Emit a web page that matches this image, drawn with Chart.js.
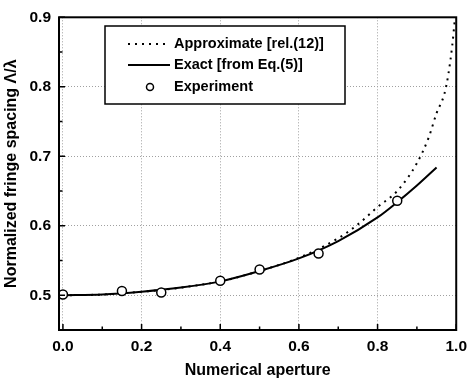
<!DOCTYPE html>
<html>
<head>
<meta charset="utf-8">
<script src="https://cdn.jsdelivr.net/npm/chart.js@4"></script>
<style>
  html, body { margin: 0; padding: 0; background: #fff; }
  #wrap { width: 474px; height: 382px; }
</style>
</head>
<body>
<div id="wrap"><canvas id="chart" width="474" height="382"></canvas></div>
<script>
const xTicks = [0, 0.2, 0.4, 0.6, 0.8, 1.0];
const xMinorTicks = [0.1, 0.3, 0.5, 0.7, 0.9];
const yTicks = [0.5, 0.6, 0.7, 0.8, 0.9];
const yMinorTicks = [0.55, 0.65, 0.75, 0.85];

const approxX = [0, 0.1, 0.2, 0.3, 0.4, 0.5, 0.6, 0.7, 0.75, 0.8, 0.85, 0.9, 0.93, 0.95, 0.97, 0.98, 0.99, 0.997];
const approxY = [0.5, 0.501, 0.505, 0.511, 0.52, 0.535, 0.554, 0.582, 0.602, 0.627, 0.65, 0.69, 0.727, 0.762, 0.79, 0.818, 0.86, 0.9];

const exactX = [0, 0.1, 0.2, 0.3, 0.4, 0.5, 0.6, 0.7, 0.8, 0.85, 0.9, 0.95];
const exactY = [0.5, 0.501, 0.505, 0.511, 0.52, 0.535, 0.553, 0.578, 0.612, 0.634, 0.658, 0.684];

const experimentX = [0, 0.15, 0.25, 0.4, 0.5, 0.65, 0.85];
const experimentY = [0.501, 0.506, 0.504, 0.521, 0.537, 0.56, 0.636];

const legendLabels = ['Approximate [rel.(12)]', 'Exact [from Eq.(5)]', 'Experiment'];

const FONT = 'Arial, "Liberation Sans", Helvetica, sans-serif';

function points(xs, ys) {
  return xs.map((x, i) => ({x, y: ys[i]}));
}

// frame, inward ticks and the boxed legend
const framePlugin = {
  id: 'frame',
  afterDraw(chart) {
    const {ctx, chartArea: area, scales: {x, y}} = chart;
    ctx.save();
    ctx.strokeStyle = '#000';
    ctx.lineWidth = 1.5;

    ctx.beginPath();
    xTicks.forEach(v => {
      const px = x.getPixelForValue(v);
      ctx.moveTo(px, area.bottom);
      ctx.lineTo(px, area.bottom - 6);
    });
    xMinorTicks.forEach(v => {
      const px = x.getPixelForValue(v);
      ctx.moveTo(px, area.bottom);
      ctx.lineTo(px, area.bottom - 3.5);
    });
    yTicks.forEach(v => {
      const py = y.getPixelForValue(v);
      ctx.moveTo(area.left, py);
      ctx.lineTo(area.left + 6, py);
    });
    yMinorTicks.forEach(v => {
      const py = y.getPixelForValue(v);
      ctx.moveTo(area.left, py);
      ctx.lineTo(area.left + 3.5, py);
    });
    ctx.stroke();

    ctx.lineWidth = 2;
    ctx.strokeRect(area.left, area.top, area.right - area.left, area.bottom - area.top);

    // legend
    ctx.fillStyle = '#fff';
    ctx.fillRect(105, 26, 240, 78);
    ctx.lineWidth = 1.5;
    ctx.strokeRect(105, 26, 240, 78);

    const rows = [44, 65, 87];
    ctx.lineWidth = 2;
    ctx.setLineDash([2, 5]);
    ctx.beginPath();
    ctx.moveTo(128, rows[0]);
    ctx.lineTo(168, rows[0]);
    ctx.stroke();
    ctx.setLineDash([]);
    ctx.beginPath();
    ctx.moveTo(128, rows[1]);
    ctx.lineTo(170, rows[1]);
    ctx.stroke();
    ctx.lineWidth = 1.5;
    ctx.beginPath();
    ctx.arc(150, rows[2], 3.5, 0, Math.PI * 2);
    ctx.fillStyle = '#fff';
    ctx.fill();
    ctx.stroke();

    ctx.fillStyle = '#000';
    ctx.font = `bold 14.5px ${FONT}`;
    ctx.textBaseline = 'middle';
    ctx.textAlign = 'left';
    legendLabels.forEach((label, i) => ctx.fillText(label, 174, rows[i]));
    ctx.restore();
  },
};

const context = document.getElementById('chart').getContext('2d');
new Chart(context, {
  type: 'scatter',
  data: {
    datasets: [
      {
        label: legendLabels[2],
        data: points(experimentX, experimentY),
        pointRadius: 4.5,
        pointBorderWidth: 1.5,
        pointBackgroundColor: '#fff',
        pointBorderColor: '#000',
        showLine: false,
        order: 0,
      },
      {
        label: legendLabels[1],
        data: points(exactX, exactY),
        showLine: true,
        borderColor: '#000',
        borderWidth: 2,
        pointRadius: 0,
        cubicInterpolationMode: 'monotone',
        order: 1,
      },
      {
        label: legendLabels[0],
        data: points(approxX, approxY),
        showLine: true,
        borderColor: '#000',
        borderWidth: 2,
        borderDash: [2, 5],
        pointRadius: 0,
        cubicInterpolationMode: 'monotone',
        order: 2,
      },
    ],
  },
  options: {
    responsive: false,
    animation: false,
    events: [],
    layout: {padding: {top: 8, right: 15, bottom: 0, left: 0}},
    plugins: {
      legend: {display: false},
      tooltip: {enabled: false},
    },
    scales: {
      x: {
        type: 'linear',
        min: -0.01,
        max: 1.0,
        afterBuildTicks: scale => { scale.ticks = xTicks.map(value => ({value})); },
        afterFit: scale => { scale.height = 52; },
        grid: {color: '#a0a0a0', lineWidth: 1, drawTicks: false},
        border: {display: false, dash: [1, 2]},
        ticks: {
          padding: 7,
          color: '#000',
          font: {family: FONT, size: 15.5, weight: 'bold'},
          maxRotation: 0,
          callback: v => v.toFixed(1),
        },
        title: {
          display: true,
          text: 'Numerical aperture',
          color: '#000',
          font: {family: FONT, size: 16, weight: 'bold'},
          padding: {top: 0, bottom: 2},
        },
      },
      y: {
        type: 'linear',
        min: 0.45,
        max: 0.9,
        afterBuildTicks: scale => { scale.ticks = yTicks.map(value => ({value})); },
        afterFit: scale => { scale.width = 59; },
        grid: {color: '#a0a0a0', lineWidth: 1, drawTicks: false},
        border: {display: false, dash: [1, 2]},
        ticks: {
          padding: 8,
          color: '#000',
          font: {family: FONT, size: 15.5, weight: 'bold'},
          callback: v => v.toFixed(1),
        },
        title: {
          display: true,
          text: 'Normalized fringe spacing Λ/λ',
          color: '#000',
          font: {family: FONT, size: 16, weight: 'bold'},
          padding: {top: 2, bottom: 0},
        },
      },
    },
  },
  plugins: [framePlugin],
});
</script>
</body>
</html>
